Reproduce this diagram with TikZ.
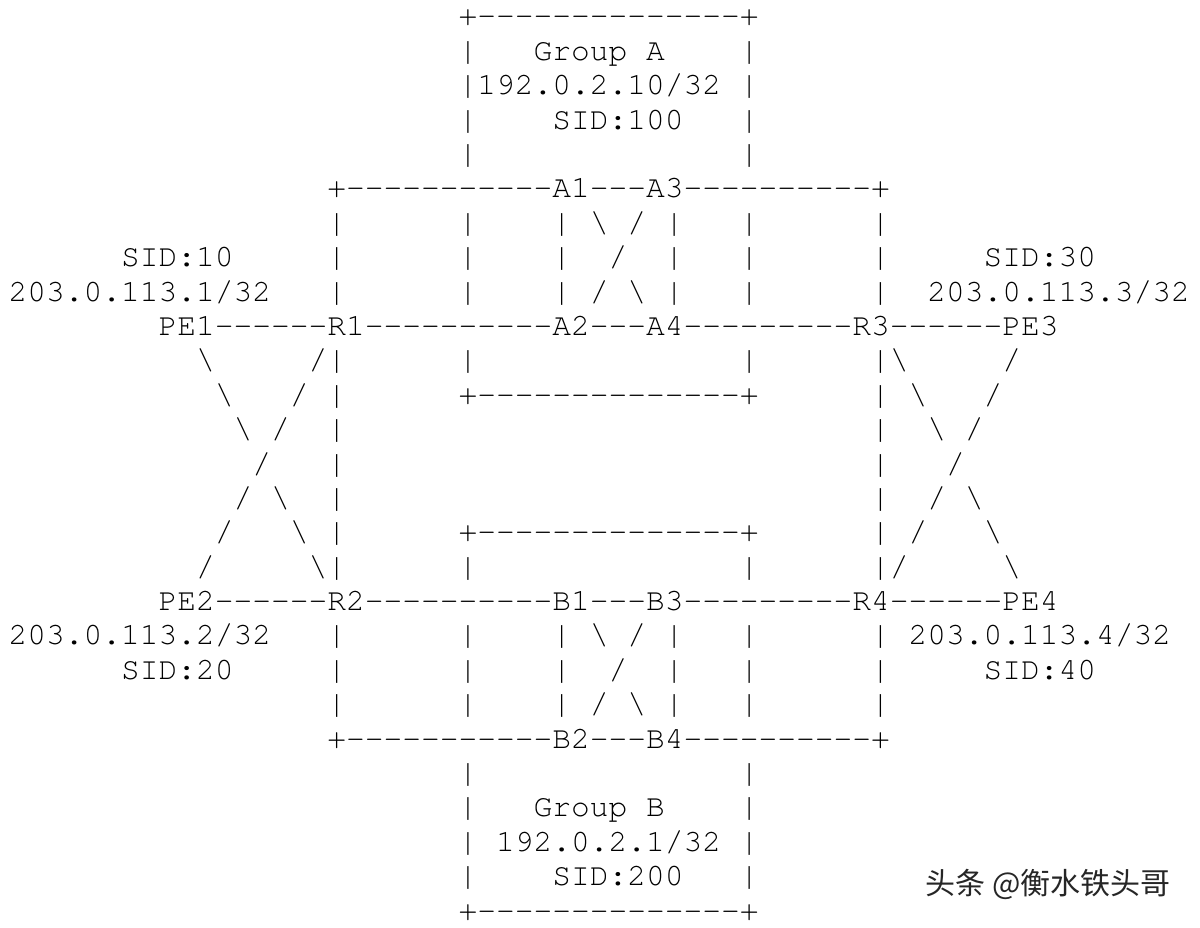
\documentclass[tikz,border=0pt]{standalone}
\usepackage{fontspec}
\newfontfamily\asciifont{texgyrecursor-regular.otf}
\newfontfamily\cjkfont{Noto Sans CJK SC}
\usepackage{tikz}
\usetikzlibrary{decorations.markings}

% half a character cell
\def\hc{4.6875pt}

\tikzset{
  chr/.style={inner sep=0pt, outer sep=0pt, text height=13.1pt, text depth=4.09pt,
    font=\fontsize{15.625pt}{17.19pt}\selectfont\asciifont},
  hrun/.style={decorate, decoration={markings,
    mark=between positions 4.6875pt and -4pt step 9.375pt with {\node[chr] {-};}}},
  vrun/.style={decorate, decoration={markings,
    mark=between positions 8.596pt and -8pt step 17.1925pt with {\node[chr] {|};}}},
  % backslash run: one half from each end, the crossing is left free
  bshalf/.style={decorate, decoration={markings,
    mark=between positions 9.791pt and 0.42 step 19.582pt with {\node[chr] {\textbackslash};}}},
  fsrun/.style={decorate, decoration={markings,
    mark=between positions 9.791pt and -9pt step 19.582pt with {\node[chr] {/};}}}
}

\begin{document}
\begin{tikzpicture}[x=9.375pt,y=-17.1925pt]
  \path[use as bounding box, fill=white] (-0.96,-0.494) rectangle (63.04,26.494);

  % box corners
  \node[chr] (atl) at (24,0) {+};
  \node[chr] (atr) at (39,0) {+};
  \node[chr] (abl) at (24,11) {+};
  \node[chr] (abr) at (39,11) {+};
  \node[chr] (btl) at (24,15) {+};
  \node[chr] (btr) at (39,15) {+};
  \node[chr] (bbl) at (24,26) {+};
  \node[chr] (bbr) at (39,26) {+};
  \node[chr] (otl) at (17,5) {+};
  \node[chr] (otr) at (46,5) {+};
  \node[chr] (obl) at (17,21) {+};
  \node[chr] (obr) at (46,21) {+};

  % routers
  \node[chr] (A1) at (29.5,5) {A1};
  \node[chr] (A3) at (34.5,5) {A3};
  \node[chr] (A2) at (29.5,9) {A2};
  \node[chr] (A4) at (34.5,9) {A4};
  \node[chr] (B1) at (29.5,17) {B1};
  \node[chr] (B3) at (34.5,17) {B3};
  \node[chr] (B2) at (29.5,21) {B2};
  \node[chr] (B4) at (34.5,21) {B4};
  \node[chr] (PE1) at (9,9) {PE1};
  \node[chr] (R1) at (17.5,9) {R1};
  \node[chr] (R3) at (45.5,9) {R3};
  \node[chr] (PE3) at (54,9) {PE3};
  \node[chr] (PE2) at (9,17) {PE2};
  \node[chr] (R2) at (17.5,17) {R2};
  \node[chr] (R4) at (45.5,17) {R4};
  \node[chr] (PE4) at (54,17) {PE4};

  % labels
  \node[chr] (grpA) at (31,1) {Group A};
  \node[chr] (pfxA) at (31,2) {192.0.2.10/32};
  \node[chr] (sidA) at (32,3) {SID:100};
  \node[chr] (grpB) at (31,23) {Group B};
  \node[chr] (pfxB) at (31.5,24) {192.0.2.1/32};
  \node[chr] (sidB) at (32,25) {SID:200};
  \node[chr] (sid1) at (8.5,7) {SID:10};
  \node[chr] (pfx1) at (6.5,8) {203.0.113.1/32};
  \node[chr] (sid3) at (54.5,7) {SID:30};
  \node[chr] (pfx3) at (55.5,8) {203.0.113.3/32};
  \node[chr] (pfx2) at (6.5,18) {203.0.113.2/32};
  \node[chr] (sid2) at (8.5,19) {SID:20};
  \node[chr] (pfx4) at (54.5,18) {203.0.113.4/32};
  \node[chr] (sid4) at (54.5,19) {SID:40};

  % vertical links, broken where a horizontal link crosses
  \path[vrun] (atl) -- (atl |- A1.north);
  \path[vrun] (atl |- A1.south) -- (atl |- A2.north);
  \path[vrun] (atl |- A2.south) -- (abl);
  \path[vrun] (atr) -- (atr |- A3.north);
  \path[vrun] (atr |- A3.south) -- (atr |- A4.north);
  \path[vrun] (atr |- A4.south) -- (abr);
  \path[vrun] (btl) -- (btl |- B1.north);
  \path[vrun] (btl |- B1.south) -- (btl |- B2.north);
  \path[vrun] (btl |- B2.south) -- (bbl);
  \path[vrun] (btr) -- (btr |- B3.north);
  \path[vrun] (btr |- B3.south) -- (btr |- B4.north);
  \path[vrun] (btr |- B4.south) -- (bbr);
  \path[vrun] (otl) -- (otl |- R1.north);
  \path[vrun] (otl |- R1.south) -- (otl |- R2.north);
  \path[vrun] (otl |- R2.south) -- (obl);
  \path[vrun] (otr) -- (otr |- R3.north);
  \path[vrun] (otr |- R3.south) -- (otr |- R4.north);
  \path[vrun] (otr |- R4.south) -- (obr);
  \path[vrun] ([xshift=\hc]A1.south west) -- ([xshift=\hc]A2.north west);
  \path[vrun] ([xshift=-\hc]A3.south east) -- ([xshift=-\hc]A4.north east);
  \path[vrun] ([xshift=\hc]B1.south west) -- ([xshift=\hc]B2.north west);
  \path[vrun] ([xshift=-\hc]B3.south east) -- ([xshift=-\hc]B4.north east);

  % crossed links
  \path[bshalf] ([xshift=\hc]PE1.south) -- (R2.north west);
  \path[bshalf] (R2.north west) -- ([xshift=\hc]PE1.south);
  \path[fsrun] ([xshift=\hc]PE2.north) -- (R1.south west);
  \path[bshalf] (R3.south east) -- ([xshift=-\hc]PE4.north);
  \path[bshalf] ([xshift=-\hc]PE4.north) -- (R3.south east);
  \path[fsrun] (R4.north east) -- ([xshift=-\hc]PE3.south);
  \path[bshalf] (A1.south east) -- (A4.north west);
  \path[bshalf] (A4.north west) -- (A1.south east);
  \path[fsrun] (A2.north east) -- (A3.south west);
  \path[bshalf] (B1.south east) -- (B4.north west);
  \path[bshalf] (B4.north west) -- (B1.south east);
  \path[fsrun] (B2.north east) -- (B3.south west);

  % horizontal links
  \path[hrun] (atl) -- (atr);
  \path[hrun] (abl) -- (abr);
  \path[hrun] (btl) -- (btr);
  \path[hrun] (bbl) -- (bbr);
  \path[hrun] (otl) -- (A1);
  \path[hrun] (A1) -- (A3);
  \path[hrun] (A3) -- (otr);
  \path[hrun] (PE1) -- (R1);
  \path[hrun] (R1) -- (A2);
  \path[hrun] (A2) -- (A4);
  \path[hrun] (A4) -- (R3);
  \path[hrun] (R3) -- (PE3);
  \path[hrun] (PE2) -- (R2);
  \path[hrun] (R2) -- (B1);
  \path[hrun] (B1) -- (B3);
  \path[hrun] (B3) -- (R4);
  \path[hrun] (R4) -- (PE4);
  \path[hrun] (obl) -- (B2);
  \path[hrun] (B2) -- (B4);
  \path[hrun] (B4) -- (obr);

  \node[font=\fontsize{15pt}{18pt}\selectfont\cjkfont, text=black!85] (mark) at (54.93,25.24) {头条 @衡水铁头哥};
\end{tikzpicture}
\end{document}
